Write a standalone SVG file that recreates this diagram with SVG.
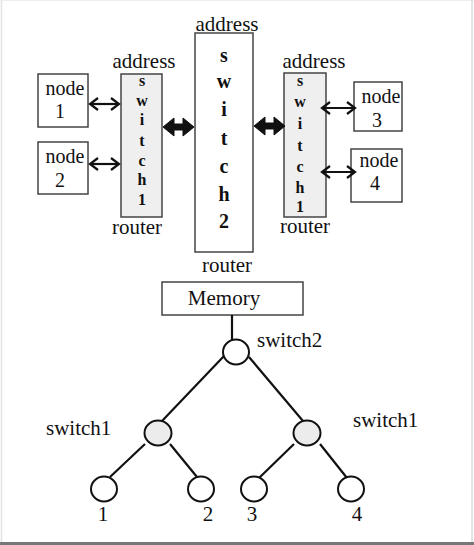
<svg xmlns="http://www.w3.org/2000/svg" width="474" height="545" viewBox="0 0 474 545">
<style>
text{font-family:"Liberation Serif","Times New Roman",serif;fill:#111}
.lbl{font-size:21px}
.nd{font-size:20px}
.box{fill:#fff;stroke:#444;stroke-width:1.5}
.sw1{fill:#efefef;stroke:#444;stroke-width:1.5}
.l1{font-size:16px;font-weight:bold;text-anchor:middle}
.l2{font-size:20px;font-weight:bold;text-anchor:middle}
.conn{stroke:#111;stroke-width:2.2;fill:none}
.thick{fill:#111;stroke:#111;stroke-width:1}
.circ{fill:#fff;stroke:#111;stroke-width:2}
.circg{fill:#ececec;stroke:#111;stroke-width:2}
</style>
<defs>
<marker id="oa" markerWidth="12" markerHeight="14" refX="10" refY="7" orient="auto-start-reverse" markerUnits="userSpaceOnUse">
<path d="M2,1 L10,7 L2,13" fill="none" stroke="#111" stroke-width="2.2"/>
</marker>
</defs>
<rect x="0" y="0" width="474" height="545" fill="#fff"/>
<line x1="1.5" y1="0" x2="1.5" y2="542" stroke="#e2e2e2" stroke-width="1.5"/>
<line x1="0" y1="0.5" x2="474" y2="0.5" stroke="#eee" stroke-width="1"/>
<line x1="472" y1="0" x2="472" y2="542" stroke="#ddd" stroke-width="1.5"/>
<rect x="0" y="542" width="474" height="3" fill="#777"/>

<g id="node1"><rect class="box" x="38" y="74" width="50" height="53"/><text class="nd" x="65" y="95" text-anchor="middle">node</text><text class="nd" x="60" y="118" text-anchor="middle">1</text></g>
<g id="node2"><rect class="box" x="38" y="142" width="50" height="52"/><text class="nd" x="65" y="163" text-anchor="middle">node</text><text class="nd" x="60" y="187" text-anchor="middle">2</text></g>
<g id="node3"><rect class="box" x="354" y="82" width="48" height="49"/><text class="nd" x="381" y="103" text-anchor="middle">node</text><text class="nd" x="377" y="127" text-anchor="middle">3</text></g>
<g id="node4"><rect class="box" x="351" y="149" width="51" height="53"/><text class="nd" x="379" y="167" text-anchor="middle">node</text><text class="nd" x="375" y="190" text-anchor="middle">4</text></g>

<g id="switch1-left">
<rect class="sw1" x="121" y="74" width="41" height="143"/>
<text class="lbl" x="144" y="68" text-anchor="middle">address</text>
<text class="lbl" x="137" y="234" text-anchor="middle">router</text>
<text class="l1" x="142" y="86">s</text><text class="l1" x="142" y="106">w</text><text class="l1" x="142" y="125">i</text><text class="l1" x="142" y="146">t</text><text class="l1" x="142" y="166">c</text><text class="l1" x="142" y="185">h</text><text class="l1" x="142" y="205">1</text>
</g>
<g id="switch2">
<rect class="box" x="195" y="33" width="58" height="219"/>
<text class="lbl" x="227" y="31" text-anchor="middle">address</text>
<text class="lbl" x="227" y="272" text-anchor="middle">router</text>
<text class="l2" x="224" y="62">s</text><text class="l2" x="224" y="88">w</text><text class="l2" x="224" y="116">i</text><text class="l2" x="224" y="145">t</text><text class="l2" x="224" y="173">c</text><text class="l2" x="224" y="201">h</text><text class="l2" x="224" y="228">2</text>
</g>
<g id="switch1-right">
<rect class="sw1" x="284" y="73" width="42" height="144"/>
<text class="lbl" x="314" y="68" text-anchor="middle">address</text>
<text class="lbl" x="305" y="233" text-anchor="middle">router</text>
<text class="l1" x="300" y="86">s</text><text class="l1" x="300" y="107">w</text><text class="l1" x="300" y="129">i</text><text class="l1" x="300" y="151">t</text><text class="l1" x="300" y="172">c</text><text class="l1" x="300" y="193">h</text><text class="l1" x="300" y="212">1</text>
</g>

<g id="memory"><rect class="box" x="162" y="282" width="141" height="33"/><text class="lbl" x="224" y="305" text-anchor="middle">Memory</text></g>
<g id="t-switch2"><ellipse class="circ" cx="236" cy="352" rx="13" ry="12.5"/><text class="lbl" x="257" y="347">switch2</text></g>
<g id="t-switch1-left"><ellipse class="circg" cx="158" cy="433" rx="13.5" ry="12.5"/><text class="lbl" x="46" y="435">switch1</text></g>
<g id="t-switch1-right"><ellipse class="circg" cx="307" cy="433" rx="13.5" ry="12.5"/><text class="lbl" x="353" y="427">switch1</text></g>
<g id="leaf1"><ellipse class="circ" cx="104" cy="489" rx="13" ry="12.5"/><text class="lbl" x="103" y="521" text-anchor="middle">1</text></g>
<g id="leaf2"><ellipse class="circ" cx="201" cy="489" rx="13" ry="12.5"/><text class="lbl" x="208" y="521" text-anchor="middle">2</text></g>
<g id="leaf3"><ellipse class="circ" cx="254" cy="489" rx="13" ry="12.5"/><text class="lbl" x="252" y="521" text-anchor="middle">3</text></g>
<g id="leaf4"><ellipse class="circ" cx="351" cy="489" rx="13" ry="12.5"/><text class="lbl" x="357" y="521" text-anchor="middle">4</text></g>

<g id="connectors">
<line class="conn" x1="90" y1="104" x2="119" y2="104" marker-start="url(#oa)" marker-end="url(#oa)"/>
<line class="conn" x1="90" y1="164" x2="119" y2="164" marker-start="url(#oa)" marker-end="url(#oa)"/>
<line class="conn" x1="322" y1="108" x2="355" y2="108" marker-start="url(#oa)" marker-end="url(#oa)"/>
<line class="conn" x1="322" y1="172" x2="355" y2="172" marker-start="url(#oa)" marker-end="url(#oa)"/>
<polygon class="thick" points="163,127 174,118 174,124 183,124 183,118 194,127 183,136 183,130 174,130 174,136"/>
<polygon class="thick" points="254,126 265,117 265,123 274,123 274,117 285,126 274,135 274,129 265,129 265,135"/>
<line class="conn" x1="232" y1="315" x2="232" y2="340"/>
<line class="conn" x1="224" y1="356" x2="162" y2="421"/>
<line class="conn" x1="249" y1="357" x2="303" y2="421"/>
<line class="conn" x1="145" y1="444" x2="110" y2="477"/>
<line class="conn" x1="170" y1="444" x2="197" y2="477"/>
<line class="conn" x1="294" y1="444" x2="259" y2="478"/>
<line class="conn" x1="320" y1="444" x2="347" y2="478"/>
</g>
</svg>
